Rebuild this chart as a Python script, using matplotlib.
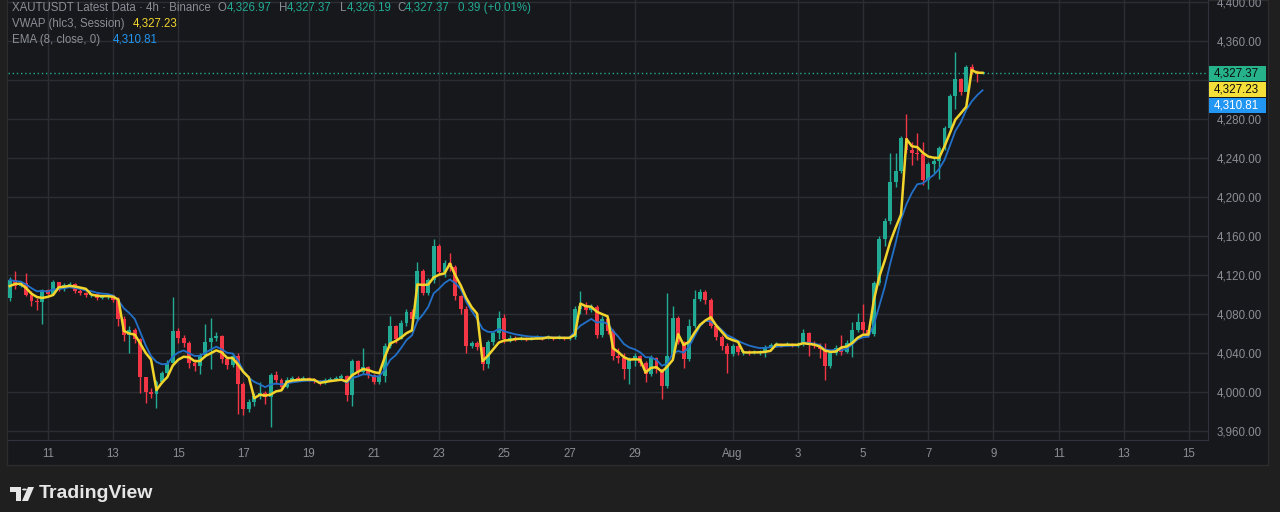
import numpy as np
import pandas as pd
import matplotlib
matplotlib.use("Agg")
import matplotlib.pyplot as plt
from matplotlib.patches import Rectangle, Polygon, Circle

# ---- data (4h candles, first one Jul 9 20:00) ----
first_open = 4096
closes = [4115,
    4109, 4112, 4100, 4093, 4092, 4105,   # Jul 10
    4101, 4113, 4106, 4110, 4111, 4104,   # Jul 11
    4102, 4099, 4101, 4096, 4098, 4099,   # Jul 12
    4094, 4075, 4058, 4064, 4054, 4015,   # Jul 13
    4000, 3998, 4010, 4020, 4030, 4063,   # Jul 14
    4055, 4050, 4030, 4027, 4038, 4051,   # Jul 15
    4055, 4057, 4034, 4028, 4037, 4008,   # Jul 16
    3983, 3990, 3996, 3999, 3995, 4017,   # Jul 17
    4012, 4005, 4012, 4014, 4013, 4014,   # Jul 18
    4013, 4011, 4009, 4012, 4013, 4014,   # Jul 19
    4016, 3997, 4032, 4021, 4026, 4017,   # Jul 20
    4010, 4016, 4047, 4068, 4054, 4071,   # Jul 21
    4082, 4075, 4124, 4102, 4115, 4150,   # Jul 22
    4123, 4132, 4128, 4098, 4085, 4047,   # Jul 23
    4050, 4046, 4029, 4051, 4061, 4076,   # Jul 24
    4054, 4055, 4054, 4055, 4054, 4055,   # Jul 25
    4056, 4055, 4056, 4055, 4056, 4055,   # Jul 26
    4056, 4085, 4088, 4084, 4087, 4058,   # Jul 27
    4075, 4063, 4037, 4035, 4024, 4033,   # Jul 28
    4037, 4030, 4018, 4035, 4024, 4006,   # Jul 29
    4037, 4076, 4051, 4034, 4068, 4095,   # Jul 30
    4103, 4094, 4068, 4056, 4047, 4039,   # Jul 31
    4047, 4041, 4041, 4040, 4041, 4041,   # Aug 1
    4046, 4048, 4049, 4048, 4049, 4048,   # Aug 2
    4049, 4061, 4049, 4047, 4044, 4027,   # Aug 3
    4040, 4045, 4041, 4050, 4064, 4072,   # Aug 4
    4064, 4059, 4112, 4157, 4175, 4215,   # Aug 5
    4227, 4261, 4248, 4245, 4244, 4217,   # Aug 6
    4234, 4237, 4250, 4271, 4304, 4321,   # Aug 7
    4308, 4333, 4328, 4326.97, 4327.37]   # Aug 8
highs = [4118,
    4124, 4114, 4122, 4104, 4096, 4106,
    4106, 4115, 4112, 4112, 4113, 4112,
    4106, 4103, 4102, 4102, 4100, 4101,
    4100, 4097, 4078, 4068, 4066, 4055,
    4015, 4004, 4012, 4022, 4033, 4097,
    4066, 4058, 4052, 4034, 4040, 4070,
    4076, 4062, 4058, 4036, 4040, 4040,
    4010, 3993, 3999, 4010, 4001, 4020,
    4022, 4014, 4015, 4016, 4016, 4016,
    4015, 4014, 4012, 4014, 4015, 4016,
    4018, 4017, 4034, 4033, 4045, 4027,
    4018, 4018, 4050, 4078, 4069, 4074,
    4085, 4085, 4133, 4126, 4117, 4157,
    4152, 4135, 4143, 4130, 4100, 4088,
    4052, 4052, 4043, 4053, 4063, 4083,
    4080, 4058, 4057, 4057, 4056, 4057,
    4058, 4057, 4058, 4057, 4058, 4057,
    4058, 4088, 4104, 4092, 4090, 4089,
    4078, 4077, 4065, 4045, 4040, 4036,
    4040, 4038, 4032, 4038, 4036, 4022,
    4102, 4088, 4078, 4052, 4075, 4105,
    4106, 4105, 4096, 4070, 4058, 4050,
    4049, 4048, 4043, 4043, 4043, 4043,
    4048, 4050, 4051, 4050, 4051, 4050,
    4051, 4065, 4062, 4052, 4050, 4050,
    4042, 4048, 4058, 4053, 4072, 4081,
    4090, 4065, 4114, 4160, 4178, 4245,
    4245, 4263, 4285, 4256, 4266, 4256,
    4236, 4240, 4252, 4273, 4306, 4349,
    4322, 4335, 4336, 4330, 4327.37]
lows = [4093,
    4106, 4108, 4098, 4088, 4084, 4070,
    4099, 4100, 4104, 4104, 4108, 4102,
    4100, 4097, 4097, 4094, 4095, 4095,
    4092, 4068, 4052, 4040, 4050, 3999,
    3989, 3994, 3984, 4009, 4018, 4028,
    4050, 4046, 4025, 4022, 4018, 4036,
    4024, 4052, 4030, 4024, 4026, 3977,
    3976, 3980, 3986, 3993, 3988, 3964,
    4008, 4002, 4004, 4010, 4011, 4012,
    4011, 4009, 4007, 4008, 4011, 4012,
    4012, 3991, 3986, 4017, 4018, 4014,
    4008, 4008, 4010, 4045, 4050, 4054,
    4068, 4072, 4074, 4100, 4100, 4112,
    4120, 4118, 4124, 4094, 4080, 4040,
    4045, 4043, 4023, 4025, 4048, 4054,
    4050, 4051, 4052, 4053, 4052, 4053,
    4054, 4053, 4054, 4053, 4054, 4053,
    4053, 4054, 4080, 4080, 4082, 4055,
    4056, 4060, 4033, 4030, 4013, 4008,
    4027, 4027, 4010, 4016, 4020, 3993,
    4004, 4035, 4049, 4025, 4032, 4066,
    4093, 4090, 4066, 4053, 4043, 4020,
    4037, 4038, 4038, 4038, 4039, 4038,
    4036, 4045, 4046, 4046, 4047, 4046,
    4046, 4047, 4037, 4045, 4035, 4012,
    4025, 4038, 4038, 4040, 4036, 4062,
    4060, 4056, 4057, 4110, 4150, 4172,
    4210, 4225, 4245, 4233, 4238, 4212,
    4208, 4225, 4218, 4248, 4270, 4290,
    4305, 4310, 4326, 4318, 4326.19]

price_ticks = [3960, 4000, 4040, 4080, 4120, 4160, 4200, 4240, 4280, 4320, 4360, 4400]
hidden_ticks = [4320]   # covered by the price tags in the reference
day_ticks = [11, 13, 15, 17, 19, 21, 23, 25, 27, 29, 32, 34, 36, 38, 40, 42, 44, 46]
day_labels = ["11", "13", "15", "17", "19", "21", "23", "25", "27", "29",
              "Aug", "3", "5", "7", "9", "11", "13", "15"]
last_close, last_vwap, last_ema = 4327.37, 4327.23, 4310.81

# ---- derived ----
c = np.array(closes, dtype=float)
h = np.array(highs, dtype=float)
l = np.array(lows, dtype=float)
o = np.concatenate([[first_open], c[:-1]])
o[-1] = 4326.97
times = pd.date_range("2025-07-09 20:00", periods=len(c), freq="4h")
xd = 9 + 20 / 24 + np.arange(len(c)) / 6.0   # day number, Aug d -> 31 + d

ema = pd.Series(c).ewm(span=8, adjust=False).mean().values
hlc3 = pd.Series((h + l + c) / 3)
session = (times - pd.Timedelta(hours=8)).normalize()
vwap = (hlc3.groupby(session).cumsum() / hlc3.groupby(session).cumcount().add(1)).values

UP, DOWN = "#22ab94", "#f23645"
BG, PANEL, GRID = "#1f1f1f", "#17181c", "#2a2d34"
TXT = "#8b8e96"
W, H = 1280, 512
FONT = ["Liberation Sans", "DejaVu Sans"]
plt.rcParams["font.family"] = FONT

fig = plt.figure(figsize=(W / 100, H / 100), dpi=100, facecolor=BG)
fig.patches.append(Rectangle((7 / W, 1 - 465 / H), 1261 / W, 465 / H,
                             transform=fig.transFigure, facecolor=PANEL,
                             edgecolor="#2c2c2c", lw=1, zorder=-5))

ax = fig.add_axes([8 / W, 1 - 440 / H, 1200 / W, 440 / H])
ax.set_facecolor(PANEL)
ax.set_xlim(9.78, 46.58)
ax.set_ylim(3950.8, 4402)

ax.set_yticks(price_ticks)
ax.set_yticklabels(["" if p in hidden_ticks else f"{p:,.2f}" for p in price_ticks])
ax.yaxis.tick_right()
ax.set_xticks(day_ticks)
ax.set_xticklabels(day_labels)
ax.tick_params(axis="both", length=0, colors=TXT, labelsize=8.3)
ax.tick_params(axis="y", pad=6)
ax.tick_params(axis="x", pad=6)
ax.grid(True, color=GRID, lw=1)
ax.set_axisbelow(True)
for s in ["top", "left"]:
    ax.spines[s].set_visible(False)
for s in ["right", "bottom"]:
    ax.spines[s].set_color("#30333b")

cols = np.where(c >= o, UP, DOWN)
ax.vlines(xd, l, h, colors=cols, lw=1, zorder=2)
body = np.maximum(np.abs(c - o), 0.8)
ax.bar(xd, body, bottom=np.minimum(o, c), width=0.12, color=cols, zorder=3)

ax.plot(xd, ema, color="#2270c8", lw=1.3, zorder=4)
ax.plot(xd, vwap, color="#f2d52c", lw=1.8, zorder=5)
ax.axhline(last_close, color=UP, lw=1, ls=(0, (1, 2)), zorder=1)

# ---- price tags on the axis ----
def tag(y_px, txt, fc, tc):
    fig.patches.append(Rectangle((1209 / W, 1 - (y_px + 7.5) / H), 57 / W, 15 / H,
                                 transform=fig.transFigure, facecolor=fc,
                                 edgecolor="none", zorder=5))
    fig.text(1214 / W, 1 - y_px / H, txt, color=tc, fontsize=8.4,
             va="center", ha="left", zorder=6)

tag(73.5, f"{last_close:,.2f}", "#26b38c", "#0d0d0d")
tag(89.5, f"{last_vwap:,.2f}", "#f5e03a", "#0d0d0d")
tag(105.5, f"{last_ema:,.2f}", "#2196f3", "#ffffff")

# ---- legend text ----
def t(x, y, s, color, size=8.3):
    fig.text(x / W, 1 - y / H, s, color=color, fontsize=size, va="center", ha="left")

GREEN_T = "#22ab94"
t(12, 8, "XAUTUSDT Latest Data · 4h · Binance", TXT)
t(218, 8, "O", TXT); t(227, 8, "4,326.97", GREEN_T)
t(279, 8, "H", TXT); t(287, 8, "4,327.37", GREEN_T)
t(340, 8, "L", TXT); t(347, 8, "4,326.19", GREEN_T)
t(397, 8, "C", TXT); t(405, 8, "4,327.37", GREEN_T)
t(458, 8, "0.39 (+0.01%)", GREEN_T)
t(12, 24, "VWAP (hlc3, Session)", TXT); t(133, 24, "4,327.23", "#f2d52c")
t(12, 40, "EMA (8, close, 0)", TXT); t(113, 40, "4,310.81", "#2196f3")

# ---- TradingView logo ----
def P(pts, **kw):
    fig.patches.append(Polygon([(x / W, 1 - y / H) for x, y in pts], closed=True,
                               transform=fig.transFigure, **kw))

LOGO = "#e6e6e6"
P([(10, 487), (21, 487), (21, 501), (16, 501), (16, 492), (10, 492)], facecolor=LOGO)
fig.patches.append(Circle((24.5 / W, 1 - 489.5 / H), 2.4 / W, transform=fig.transFigure,
                          facecolor=LOGO))
P([(28, 487), (34, 487), (28, 501), (22, 501)], facecolor=LOGO)
fig.text(39 / W, 1 - 494 / H, "TradingView", color=LOGO, fontsize=14,
         fontweight="bold", va="center", ha="left")

fig.savefig("out.png", dpi=100, facecolor=BG)
